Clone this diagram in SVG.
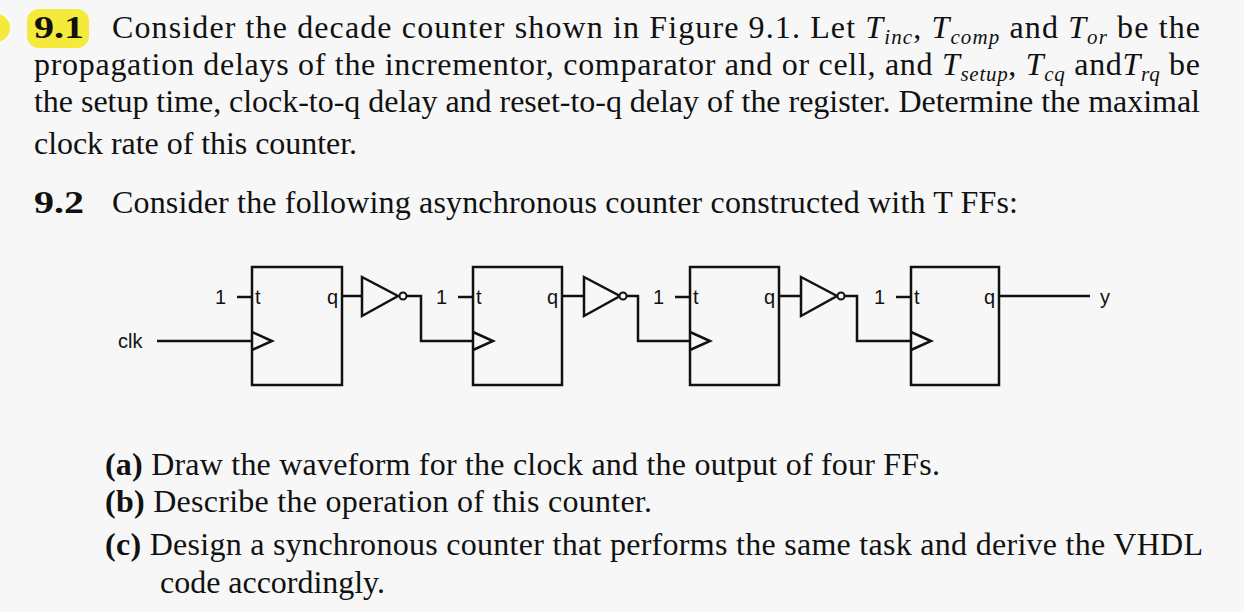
<svg xmlns="http://www.w3.org/2000/svg" width="1244" height="612" viewBox="0 0 1244 612">
<style>
.t{font-family:"Liberation Serif","Times New Roman",serif;font-size:32px;fill:#111}
.b{font-weight:bold}
.i{font-style:italic}
.s{font-size:21px;font-style:italic}
.c{font-family:"Liberation Sans",Arial,sans-serif;font-size:20px;fill:#111}
.w{fill:none;stroke:#111;stroke-width:2.5}
</style>
<rect width="1244" height="612" fill="#f7f7f7"/>
<circle cx="-4" cy="28" r="14" fill="#f5ea3c"/>
<rect x="27" y="9" width="62" height="39" rx="12" fill="#f5ea3c"/>
<g id="text">
<text class="t b" x="34" y="38" textLength="50" lengthAdjust="spacingAndGlyphs">9.1</text>
<text class="t" x="112" y="38" textLength="1088" lengthAdjust="spacing">Consider the decade counter shown in Figure 9.1. Let <tspan class="i">T</tspan><tspan class="s" dy="6">inc</tspan><tspan dy="-6">, </tspan><tspan class="i">T</tspan><tspan class="s" dy="6">comp</tspan><tspan dy="-6"> and </tspan><tspan class="i">T</tspan><tspan class="s" dy="6">or</tspan><tspan dy="-6"> be the</tspan></text>
<text class="t" x="34" y="75" textLength="1166" lengthAdjust="spacing">propagation delays of the incrementor, comparator and or cell, and <tspan class="i">T</tspan><tspan class="s" dy="6">setup</tspan><tspan dy="-6">, </tspan><tspan class="i">T</tspan><tspan class="s" dy="6">cq</tspan><tspan dy="-6"> and</tspan><tspan class="i">T</tspan><tspan class="s" dy="6">rq</tspan><tspan dy="-6"> be</tspan></text>
<text class="t" x="34" y="112" textLength="1166" lengthAdjust="spacing">the setup time, clock-to-q delay and reset-to-q delay of the register. Determine the maximal</text>
<text class="t" x="34" y="154" textLength="323" lengthAdjust="spacing">clock rate of this counter.</text>
<text class="t b" x="34" y="213" textLength="50" lengthAdjust="spacingAndGlyphs">9.2</text>
<text class="t" x="112" y="213" textLength="906" lengthAdjust="spacing">Consider the following asynchronous counter constructed with T FFs:</text>
<text class="t" x="105" y="475" textLength="835" lengthAdjust="spacing"><tspan class="b">(a)</tspan> Draw the waveform for the clock and the output of four FFs.</text>
<text class="t" x="105" y="512" textLength="547" lengthAdjust="spacing"><tspan class="b">(b)</tspan> Describe the operation of this counter.</text>
<text class="t" x="105" y="555" textLength="1098" lengthAdjust="spacing"><tspan class="b">(c)</tspan> Design a synchronous counter that performs the same task and derive the VHDL</text>
<text class="t" x="160" y="593" textLength="225" lengthAdjust="spacing">code accordingly.</text>
</g>
<g id="ff1">
<rect class="w" x="252" y="267" width="90" height="118"/>
<path class="w" d="M252 332 L272 341 L252 350"/>
<text class="c" x="255" y="304">t</text><text class="c" x="327" y="304">q</text>
<text class="c" x="215" y="304">1</text>
</g>
<g id="ff2">
<rect class="w" x="473" y="267" width="89" height="118"/>
<path class="w" d="M473 332 L493 341 L473 350"/>
<text class="c" x="476" y="304">t</text><text class="c" x="547" y="304">q</text>
<text class="c" x="436" y="304">1</text>
</g>
<g id="ff3">
<rect class="w" x="690" y="267" width="89" height="118"/>
<path class="w" d="M690 332 L710 341 L690 350"/>
<text class="c" x="693" y="304">t</text><text class="c" x="764" y="304">q</text>
<text class="c" x="653" y="304">1</text>
</g>
<g id="ff4">
<rect class="w" x="911" y="267" width="88" height="118"/>
<path class="w" d="M911 332 L931 341 L911 350"/>
<text class="c" x="914" y="304">t</text><text class="c" x="984" y="304">q</text>
<text class="c" x="874" y="304">1</text>
</g>
<g id="inv1"><path class="w" d="M362 277 L398 296 L362 316 Z"/><circle cx="403" cy="296" r="3.5" fill="#f7f7f7" stroke="#111" stroke-width="2"/></g>
<g id="inv2"><path class="w" d="M584 277 L620 296 L584 316 Z"/><circle cx="623" cy="296" r="3.5" fill="#f7f7f7" stroke="#111" stroke-width="2"/></g>
<g id="inv3"><path class="w" d="M801 277 L837 296 L801 316 Z"/><circle cx="841" cy="296" r="3.5" fill="#f7f7f7" stroke="#111" stroke-width="2"/></g>
<g id="labels">
<text class="c" x="118" y="348">clk</text>
<text class="c" x="1100" y="304">y</text>
</g>
<g id="connectors">
<path class="w" d="M157 341 H252"/>
<path class="w" d="M237 297 H252 M458 297 H473 M675 297 H690 M896 297 H911"/>
<path class="w" d="M342 296 H362 M562 296 H584 M779 296 H801"/>
<path class="w" d="M407 296 H421 V341 H473"/>
<path class="w" d="M627 296 H638 V341 H690"/>
<path class="w" d="M845 296 H857 V341 H911"/>
<path class="w" d="M999 296 H1090"/>
</g>
</svg>
